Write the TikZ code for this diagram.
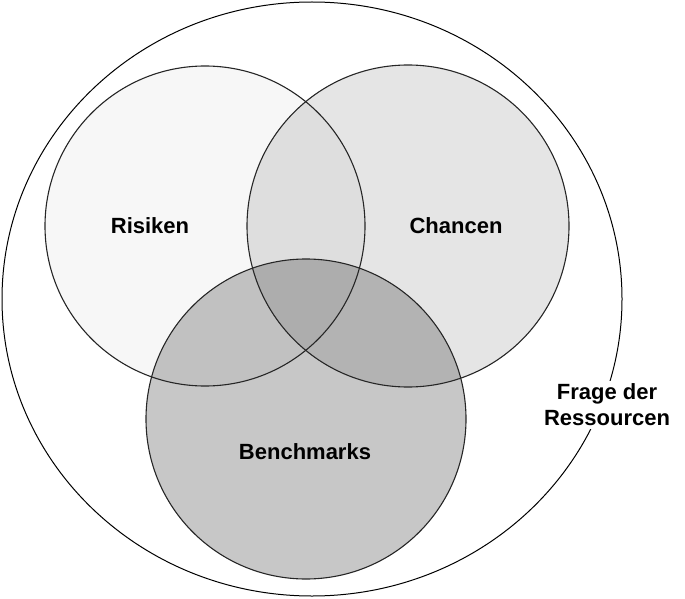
\documentclass[tikz,border=0pt]{standalone}
\usepackage{fontspec}
\setmainfont{Liberation Sans}
\begin{document}
\begin{tikzpicture}[x=1pt,y=-1pt,
  ring/.style={draw=black!85,line width=1.1pt},
  lbl/.style={font=\bfseries\fontsize{22}{26}\selectfont}]
\useasboundingbox (0,0) rectangle (685,599);
\draw[line width=1pt] (312,299) ellipse [x radius=310, y radius=297];
\node[lbl,fill=white,align=center,inner sep=3pt] (fr) at (607,405) {Frage der\\Ressourcen};
\fill[black,fill opacity=0.03] (205,226) circle (160);
\fill[black,fill opacity=0.10] (408,226) circle (161);
\fill[black,fill opacity=0.22] (306,419) circle (160);
\draw[ring] (205,226) circle (160);
\draw[ring] (408,226) circle (161);
\draw[ring] (306,419) circle (160);
\node[lbl] (r) at (150,226) {Risiken};
\node[lbl] (c) at (456,226) {Chancen};
\node[lbl] (b) at (305,452) {Benchmarks};
\end{tikzpicture}
\end{document}
